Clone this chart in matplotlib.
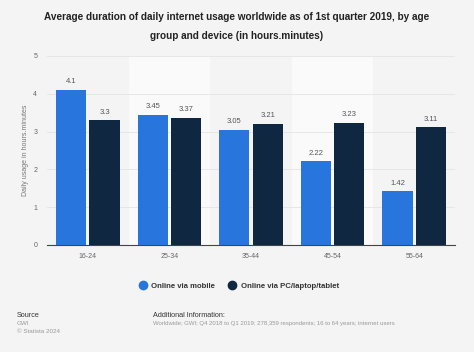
import numpy as np
import matplotlib.pyplot as plt
from matplotlib.lines import Line2D

plt.rcParams['font.family'] = ['Liberation Sans', 'DejaVu Sans']

groups = ['16-24', '25-34', '35-44', '45-54', '55-64']
mobile = [4.1, 3.45, 3.05, 2.22, 1.42]
pc = [3.3, 3.37, 3.21, 3.23, 3.11]
mobile_labels = ['4.1', '3.45', '3.05', '2.22', '1.42']
pc_labels = ['3.3', '3.37', '3.21', '3.23', '3.11']

blue = '#2876dd'
dark = '#0f2740'
bg = '#f4f4f4'

fig = plt.figure(figsize=(4.74, 3.52), dpi=100, facecolor=bg)
ax = fig.add_axes([0.099, 0.304, 0.861, 0.537], facecolor=bg)

x = np.arange(len(groups))
for i in x:
    if i % 2 == 1:
        ax.axvspan(i - 0.5, i + 0.5, color='#fafafa', zorder=0, lw=0)

w = 0.37
b1 = ax.bar(x - 0.205, mobile, w, color=blue, zorder=3)
b2 = ax.bar(x + 0.205, pc, w, color=dark, zorder=3)
for rect, lab in zip(b1, mobile_labels):
    ax.text(rect.get_x() + rect.get_width() / 2, rect.get_height() + 0.12, lab,
            ha='center', va='bottom', fontsize=5.5, color='#555555')
for rect, lab in zip(b2, pc_labels):
    ax.text(rect.get_x() + rect.get_width() / 2, rect.get_height() + 0.12, lab,
            ha='center', va='bottom', fontsize=5.5, color='#555555')

ax.set_xlim(-0.5, 4.5)
ax.set_ylim(0, 5)
ax.set_yticks(range(6))
ax.set_xticks(x)
ax.set_xticklabels(groups)
ax.tick_params(axis='both', length=0, labelsize=5, colors='#666666')
ax.tick_params(axis='x', pad=6)
ax.tick_params(axis='y', pad=7)
ax.grid(axis='y', color='#e4e4e4', lw=0.6, zorder=1)
for s in ['top', 'right', 'left']:
    ax.spines[s].set_visible(False)
ax.spines['bottom'].set_color('#444444')
ax.spines['bottom'].set_linewidth(0.8)
ax.set_ylabel('Daily usage in hours.minutes', fontsize=5, color='#777777', labelpad=3)

fig.text(0.5, 0.952, 'Average duration of daily internet usage worldwide as of 1st quarter 2019, by age',
         ha='center', va='center', fontsize=7.2, fontweight='bold', color='#222222')
fig.text(0.5, 0.899, 'group and device (in hours.minutes)',
         ha='center', va='center', fontsize=7.2, fontweight='bold', color='#222222')

handles = [Line2D([], [], marker='o', ls='', color=blue, markersize=6),
           Line2D([], [], marker='o', ls='', color=dark, markersize=6)]
fig.legend(handles, ['Online via mobile', 'Online via PC/laptop/tablet'],
           loc='center', bbox_to_anchor=(0.50, 0.187), ncol=2, frameon=False,
           prop={'size': 5.6, 'weight': 'bold'}, handletextpad=0.1, columnspacing=1.2,
           labelcolor='#333333')

fig.text(0.036, 0.103, 'Source', fontsize=5.2, color='#333333', va='center')
fig.text(0.036, 0.08, 'GWI', fontsize=4.5, color='#999999', va='center')
fig.text(0.036, 0.058, '\u00a9 Statista 2024', fontsize=4.5, color='#999999', va='center')
fig.text(0.323, 0.103, 'Additional Information:', fontsize=5.2, color='#333333', va='center')
fig.text(0.323, 0.08, 'Worldwide; GWI; Q4 2018 to Q1 2019; 278,359 respondents; 16 to 64 years; internet users',
         fontsize=4.3, color='#999999', va='center')

fig.savefig('out.png', dpi=100, facecolor=bg)
